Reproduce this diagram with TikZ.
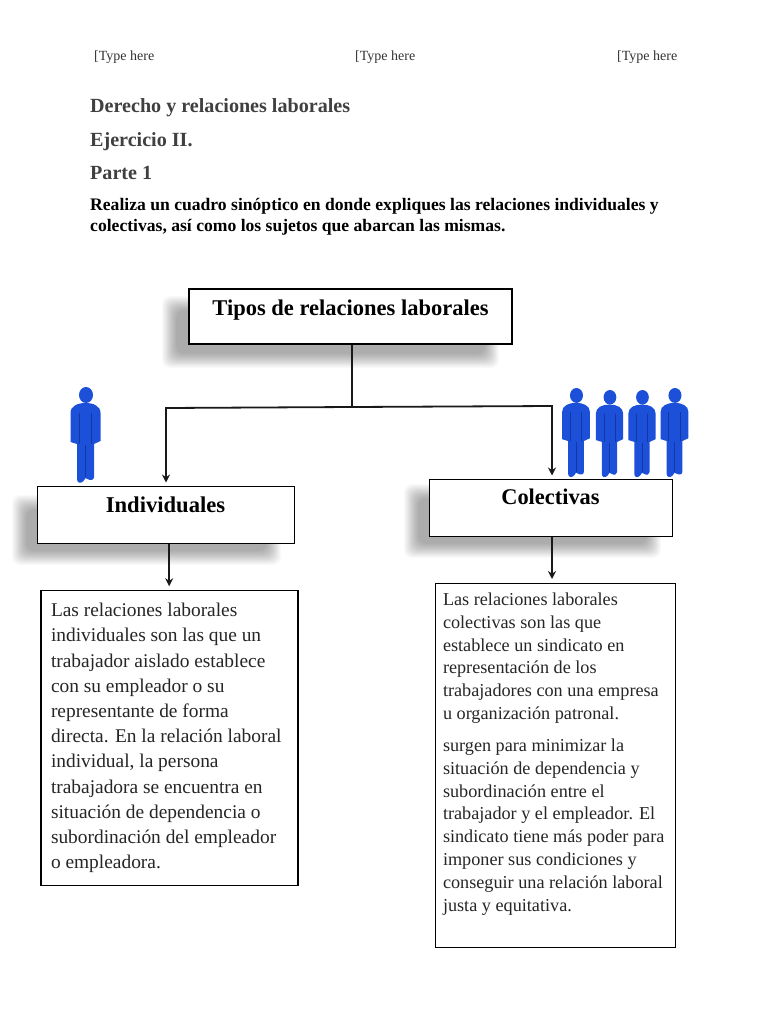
\documentclass[tikz,border=0pt]{standalone}
\usepackage{fontspec}
\setmainfont{Liberation Serif}
\usetikzlibrary{arrows.meta,calc}
\definecolor{figblue}{HTML}{1C50D8}
\definecolor{figdark}{HTML}{1238A8}
\definecolor{headgrey}{HTML}{404040}
\newcommand{\fsz}[1]{\fontsize{#1}{#1}\selectfont}
\newcommand{\softshadow}[4]{%
  \foreach \k in {0,...,17}{
    \fill[black,fill opacity=0.02,rounded corners=8pt]
      ({#1+\k*0.85},{#2+\k*0.85}) rectangle ({#3-\k*0.85},{#4-\k*0.85});
  }}
\tikzset{
  x=1pt,y=-1pt,
  boxnode/.style={draw=black,fill=white,line width=1pt,inner sep=0pt,align=center,font=\bfseries},
  textbox/.style={draw=black,fill=white,inner sep=0pt,align=left},
  headtext/.style={anchor=base west,inner sep=0pt,text=headgrey,font=\bfseries\fsz{20.1}},
  typetext/.style={anchor=base west,inner sep=0pt,text=black!80,font=\fsz{14}},
  taskline/.style={anchor=base west,inner sep=0pt,align=left,font=\bfseries\fsz{17.6}},
  link/.style={draw=black!90,line width=1.8pt},
  arrowlink/.style={link,-{Stealth[length=8pt,width=8pt]},shorten >=3.5pt},
  person/.pic={
    \fill[figblue] (0.5,8) circle[x radius=7,y radius=8];
    \fill[figblue] (-15,55) -- (-15,26) .. controls (-15,19) and (-8,16) .. (0,16)
      .. controls (8,16) and (15,19) .. (15,26) -- (15,54) -- (8.5,57) -- (8.5,90)
      .. controls (8.5,93) and (5,94) .. (2,92) -- (0,91) -- (-2,94)
      .. controls (-5,97) and (-8.5,96) .. (-8.5,92) -- (-8.5,57) -- cycle;
    \draw[figdark,line width=0.9pt] (-6,26) -- (-6,57) (6,26) -- (6,57) (0,58) -- (0,90);
  }
}
\begin{document}
\begin{tikzpicture}
\useasboundingbox (0,0) rectangle (768,1024);
\fill[white] (0,0) rectangle (768,1024);

\node[typetext] (th1) at (94,61) {[Type here};
\node[typetext] (th2) at (355,61) {[Type here};
\node[typetext] (th3) at (617,61) {[Type here};

\node[headtext] (h1) at (90,113) {Derecho y relaciones laborales};
\node[headtext] (h2) at (90,147) {Ejercicio II.};
\node[headtext] (h3) at (90,180) {Parte 1};
\node[taskline] (t1) at (90,211) {Realiza un cuadro sinóptico en donde expliques las relaciones individuales y};
\node[taskline] (t2) at (90,232) {colectivas, así como los sujetos que abarcan las mismas.};

\softshadow{162}{296}{499}{368}
\softshadow{12}{495}{281}{565}
\softshadow{404}{484}{661}{558}

\node[boxnode,line width=1.5pt,minimum width=323pt,minimum height=55pt,font=\bfseries\fsz{22.5}] (top) at (350.5,316.5)
  {\smash{\raisebox{1.5pt}{Tipos de relaciones laborales}}};
\node[boxnode,minimum width=257pt,minimum height=57pt,font=\bfseries\fsz{22.6}] (ind) at (165.5,514.5)
  {\smash{\raisebox{2pt}{Individuales}}};
\node[boxnode,minimum width=243pt,minimum height=57pt,font=\bfseries\fsz{22.4}] (col) at (550.5,507.5)
  {\smash{\raisebox{3.5pt}{Colectivas}}};

\node[textbox,line width=1.6pt,minimum width=257pt,minimum height=295pt,text width=237pt,text=black!85] (txtl) at (169.5,738) {%
  \fontsize{19.4}{25.2}\selectfont\spaceskip=0.25em\xspaceskip=0.33em
  Las relaciones laborales\\
  individuales son las que un\\
  trabajador aislado establece\\
  con su empleador o su\\
  representante de forma\\
  directa. En la relación laboral\\
  individual, la persona\\
  trabajadora se encuentra en\\
  situación de dependencia o\\
  subordinación del empleador\\
  o empleadora.\par};

\node[textbox,line width=1pt,minimum width=240pt,minimum height=364pt,text width=224pt,text=black!85] (txtr) at (555,765) {%
  \fontsize{18.2}{22.85}\selectfont\spaceskip=0.25em\xspaceskip=0.33em
  Las relaciones laborales\\
  colectivas son las que\\
  establece un sindicato en\\
  representación de los\\
  trabajadores con una empresa\\
  u organización patronal.\\[9pt]
  surgen para minimizar la\\
  situación de dependencia y\\
  subordinación entre el\\
  trabajador y el empleador. El\\
  sindicato tiene más poder para\\
  imponer sus condiciones y\\
  conseguir una relación laboral\\
  justa y equitativa.\par\vspace*{22pt}};

\coordinate (hub) at (352,407);
\coordinate (leftbend) at (166,408);
\coordinate (rightbend) at (552,406);
\coordinate (leftend) at (166,486);
\coordinate (rightend) at (552,479);

\draw[link] (top.south -| hub) -- (hub);
\draw[arrowlink] (hub) -- (leftbend) -- (leftend);
\draw[arrowlink] (hub) -- (rightbend) -- (rightend);
\draw[arrowlink] ($(ind.south)+(3.7,0)$) -- ($(txtl.north)+(-0.3,0)$);
\draw[arrowlink] ($(col.south)+(1.5,0)$) -- ($(txtr.north)+(-3,0)$);

\pic at (85.5,387) {person};
\pic[scale=0.93] at (576,388) {person};
\pic[scale=0.91] at (609.5,390) {person};
\pic[scale=0.91] at (642,390) {person};
\pic[scale=0.93] at (674.5,388) {person};
\end{tikzpicture}
\end{document}
